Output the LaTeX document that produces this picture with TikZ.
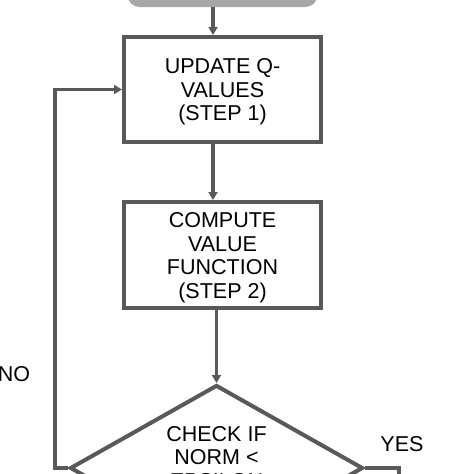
\documentclass[tikz,border=0pt]{standalone}
\usepackage{fontspec}
\setmainfont{Liberation Sans}
\usetikzlibrary{arrows.meta,shapes.geometric}
\definecolor{linegray}{HTML}{595959}
\definecolor{boxgray}{HTML}{A8A8A8}
\newcommand{\topstrut}{\rule{0pt}{20pt}}
\tikzset{
  every node/.style={font=\fontsize{21.5}{23.5}\selectfont, text=black},
  procbox/.style={draw=linegray, line width=4pt, fill=white, minimum width=197pt,
    align=center, inner sep=0pt},
  decbox/.style={draw=linegray, line width=4pt, fill=white, diamond, aspect=1.76,
    minimum width=293pt, minimum height=166pt, inner sep=0pt},
  startbox/.style={fill=boxgray, rounded corners=12pt, minimum width=190pt,
    minimum height=46pt, inner sep=0pt},
  arr/.style={draw=linegray, line width=3.5pt, -{Triangle[length=8pt,width=9pt]}},
  conn/.style={draw=linegray, line width=3.5pt},
  lbl/.style={inner sep=0pt}
}
\begin{document}
\begin{tikzpicture}[x=1pt,y=-1pt]
\useasboundingbox (0,0) rectangle (474,474);
\clip (0,0) rectangle (474,474);
\fill[white] (0,0) rectangle (474,474);

\node[startbox] (start) at (222.5,-16) {};
\node[procbox, minimum height=105pt] (box1) at (222.5,89.5)
  {\topstrut UPDATE Q-\\VALUES\\(STEP 1)};
\node[procbox, minimum height=106pt] (box2) at (222.5,255)
  {\topstrut COMPUTE\\VALUE\\FUNCTION\\(STEP 2)};
\node[decbox] (check) at (216.5,468) {};
\node[lbl, align=center, anchor=north] (checktext) at (216.5,426)
  {CHECK IF\\NORM <\\EPSILON};

\node[lbl] (no) at (14,374.5) {NO};
\node[lbl] (yes) at (402,444) {YES};
\coordinate (yesend) at (399,490);

\draw[arr] ([xshift=-9.5pt]start.south) -- ([xshift=-9.5pt]box1.north);
\draw[arr] ([xshift=-9.5pt]box1.south) -- ([xshift=-9.5pt]box2.north);
\draw[arr] (box2.south -| check.north) -- (check.north);
\draw[arr] (check.west) -- ++(-13,0) |- (box1.west);
\draw[conn] (check.east) -| (yesend);
\end{tikzpicture}
\end{document}
